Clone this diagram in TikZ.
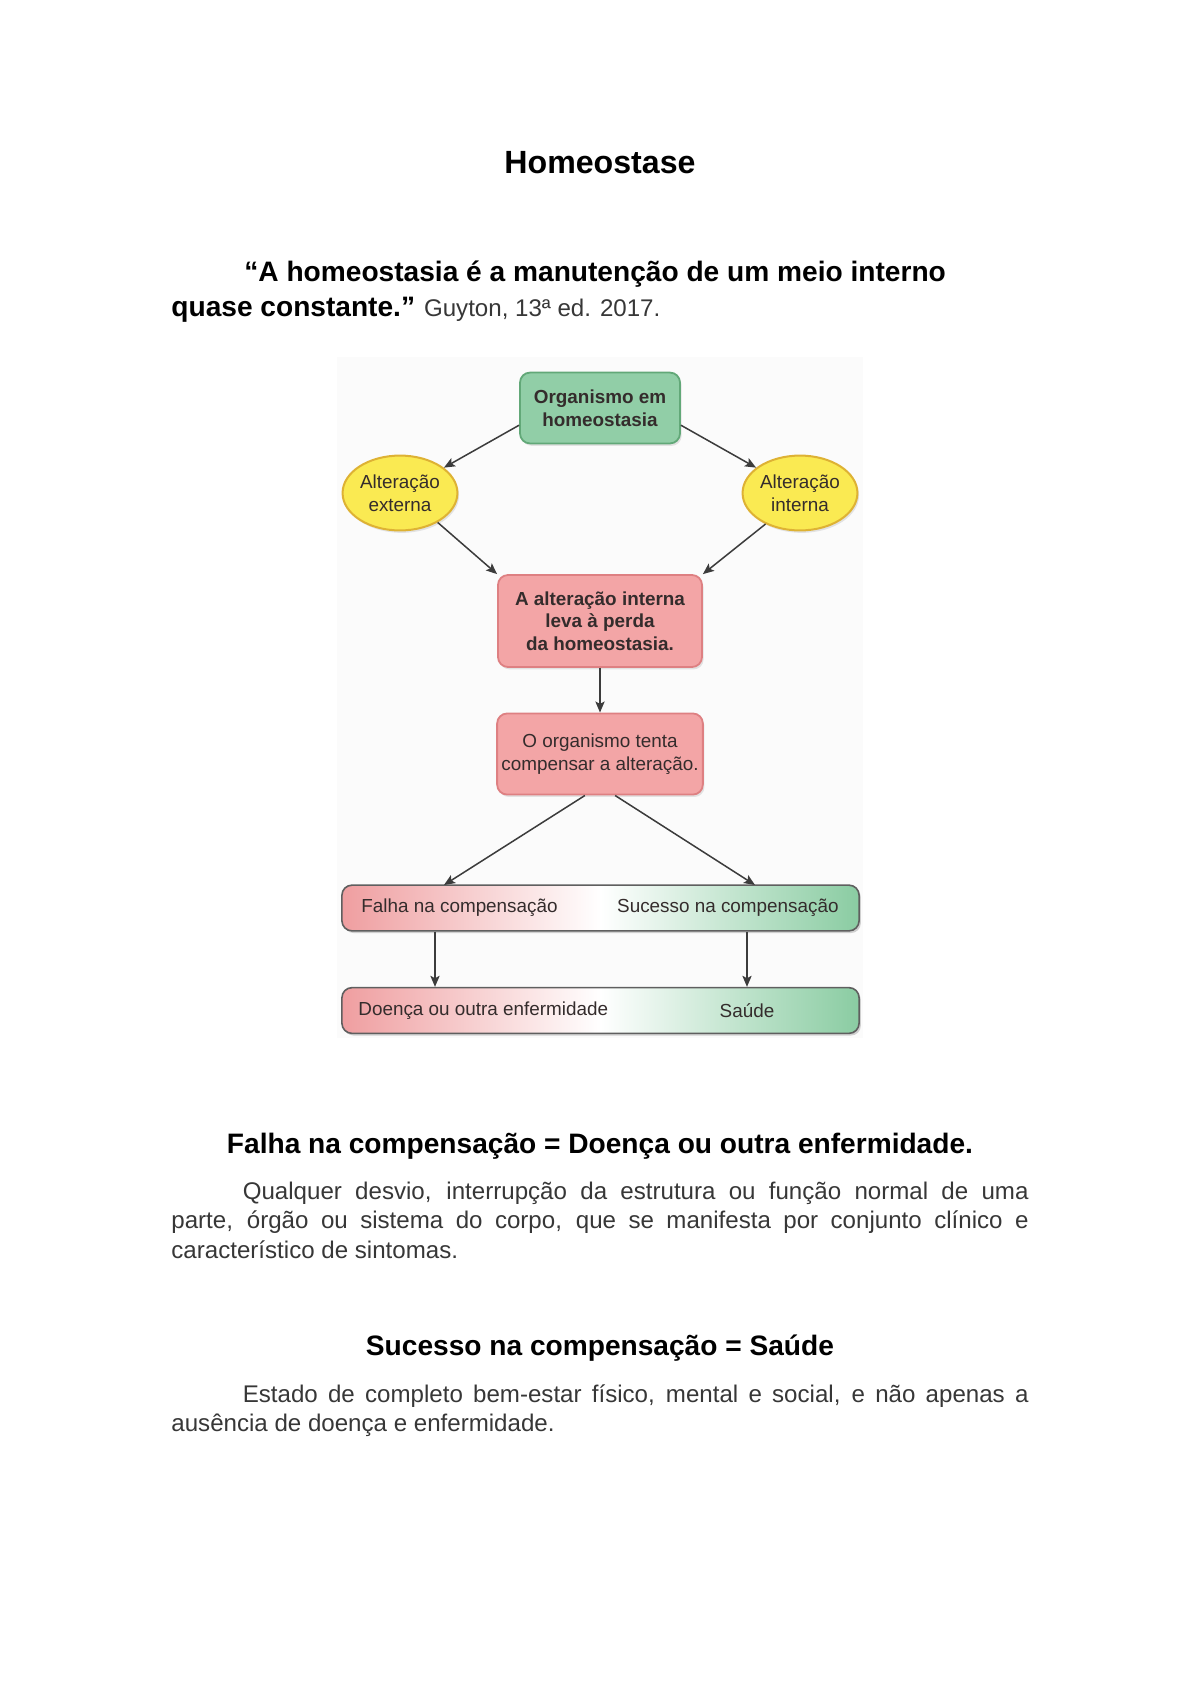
\documentclass[tikz,border=0pt]{standalone}
\usepackage{fontspec}
\setmainfont{Liberation Sans}
\usetikzlibrary{arrows.meta,shadows,shapes.geometric}

\definecolor{gfill}{RGB}{145,206,167}
\definecolor{gdraw}{RGB}{98,168,120}
\definecolor{yfill}{RGB}{250,234,82}
\definecolor{ydraw}{RGB}{222,178,52}
\definecolor{rfill}{RGB}{243,165,166}
\definecolor{rdraw}{RGB}{222,128,130}
\definecolor{bpink}{RGB}{239,158,160}
\definecolor{bgreen}{RGB}{138,204,162}
\definecolor{bdraw}{RGB}{95,95,95}
\definecolor{dtext}{RGB}{52,44,44}
\definecolor{arrowc}{RGB}{60,60,60}
\definecolor{bodyc}{RGB}{55,55,55}

\tikzset{
  dfont/.style={font=\fontsize{9.4}{11.2}\selectfont},
  dbfont/.style={font=\fontsize{9.4}{11.2}\selectfont\bfseries},
  softshadow/.style={drop shadow={opacity=0.2, shadow xshift=0.8pt, shadow yshift=-1.2pt}},
  boxg/.style={dbfont, text=dtext, align=center, inner sep=0pt, rectangle,
    rounded corners=5pt, draw=gdraw, fill=gfill, line width=0.9pt,
    minimum width=28mm, minimum height=12.4mm, softshadow},
  ellY/.style={dfont, text=dtext, align=center, inner sep=0pt, ellipse,
    draw=ydraw, fill=yfill, line width=1pt,
    minimum width=20.1mm, minimum height=13.1mm, softshadow},
  boxr/.style={dfont, text=dtext, align=center, inner sep=0pt, rectangle,
    rounded corners=5pt, draw=rdraw, fill=rfill, line width=0.9pt, softshadow},
  barbox/.style={rectangle, rounded corners=5pt, draw=bdraw, line width=0.8pt,
    left color=bpink, right color=bgreen, middle color=white,
    minimum width=90.5mm, minimum height=8mm, inner sep=0pt,
    drop shadow={opacity=0.35, shadow xshift=0.9pt, shadow yshift=-1.1pt}},
  bartext/.style={dfont, text=dtext, inner sep=0pt},
  conn/.style={draw=arrowc, line width=0.75pt,
    -{Stealth[length=5.5pt,width=4.6pt,inset=1.2pt]}},
  pagetext/.style={inner sep=0pt, text=black},
}

\begin{document}
\begin{tikzpicture}[x=0.175mm, y=-0.175mm]
\useasboundingbox (0,0) rectangle (1200,1698);
\fill[white] (0,0) rectangle (1200,1698);

% ---------- page text ----------
\node[pagetext, anchor=base, font=\fontsize{16}{18}\selectfont\bfseries] (title) at (600,173) {Homeostase};
\node[pagetext, anchor=base west, font=\fontsize{14}{17}\selectfont\bfseries] (q1) at (244,281)
  {“A homeostasia é a manutenção de um meio interno};
\node[pagetext, anchor=base west, font=\fontsize{12}{14.9}\selectfont] (q2) at (171,316)
  {{\fontsize{14}{17}\selectfont\bfseries quase constante.”} {\color{bodyc}Guyton, 13ª ed. 2017.}};

% ---------- diagram background ----------
\fill[black!1.5] (337,357) rectangle (863,1038);

% ---------- diagram nodes ----------
\node[boxg] (g) at (600,408) {Organismo em\\homeostasia};
\node[ellY] (e1) at (400,493) {Alteração\\externa};
\node[ellY] (e2) at (800,493) {Alteração\\interna};
\node[boxr, dbfont, minimum width=35.7mm, minimum height=16.1mm] (r1) at (600,621)
  {A alteração interna\\leva à perda\\da homeostasia.};
\node[boxr, minimum width=36mm, minimum height=14.2mm] (r2) at (600,754)
  {O organismo tenta\\compensar a alteração.};

\node[barbox] (bar1) at (600.5,908) {};
\node[barbox] (bar2) at (600.5,1010.5) {};

\node[bartext, anchor=west] (t1) at (361,908) {Falha na compensação};
\node[bartext, anchor=east] (t2) at (839,908) {Sucesso na compensação};
\node[bartext, anchor=west] (t3) at (358,1011) {Doença ou outra enfermidade};
\node[bartext] (t4) at (747,1011) {Saúde};

% ---------- connectors ----------
\coordinate (fl) at (444,885);
\coordinate (sl) at (755,885);
\coordinate (vl) at (435,0);
\coordinate (vr) at (747,0);

\draw[conn] (g.192) -- (e1.30);
\draw[conn] (g.-12) -- (e2.150);
\draw[conn] (e1.-38) -- (r1.north west);
\draw[conn] (e2.222) -- (r1.north east);
\draw[conn] (r1.south) -- (r2.north);
\draw[conn] (r2.250) -- (fl);
\draw[conn] (r2.290) -- (sl);
\draw[conn] (bar1.south -| vl) -- (bar2.north -| vl);
\draw[conn] (bar1.south -| vr) -- (bar2.north -| vr);

% ---------- lower text ----------
\node[pagetext, anchor=base, font=\fontsize{14}{17}\selectfont\bfseries] (h1) at (600,1153)
  {Falha na compensação = Doença ou outra enfermidade.};
\node[pagetext, anchor=base west, text=bodyc] (p1) at (171,1199)
  {\parbox[t]{150mm}{\fontsize{12}{14.9}\selectfont\hspace*{12.5mm}Qualquer desvio, interrupção da estrutura ou função normal de uma\linebreak
   parte, órgão ou sistema do corpo, que se manifesta por conjunto clínico e\linebreak
   característico de sintomas.}};
\node[pagetext, anchor=base, font=\fontsize{14}{17}\selectfont\bfseries] (h2) at (600,1355)
  {Sucesso na compensação = Saúde};
\node[pagetext, anchor=base west, text=bodyc] (p2) at (171,1402)
  {\parbox[t]{150mm}{\fontsize{12}{14.9}\selectfont\hspace*{12.5mm}Estado de completo bem-estar físico, mental e social, e não apenas a\linebreak
   ausência de doença e enfermidade.}};
\end{tikzpicture}
\end{document}
